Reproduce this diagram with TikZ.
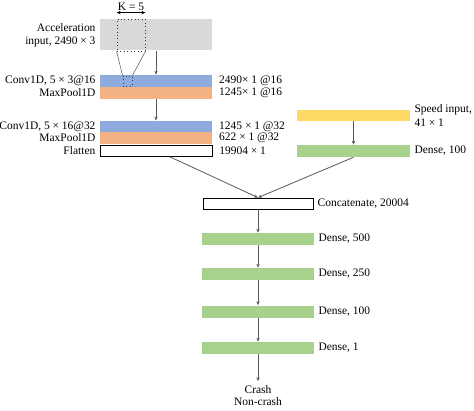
\documentclass[tikz,border=0pt]{standalone}
\usepackage{fontspec}
\setmainfont{Liberation Serif}
\usepackage{xcolor}
\usepackage{tikz}
\usetikzlibrary{arrows.meta, positioning, calc}
\definecolor{accgray}{HTML}{D9D9D9}
\definecolor{convblue}{HTML}{8FAADC}
\definecolor{poolorange}{HTML}{F4B183}
\definecolor{speedyellow}{HTML}{FFD966}
\definecolor{densegreen}{HTML}{A9D18E}
\definecolor{linegray}{HTML}{595959}
\definecolor{kernelnavy}{HTML}{1F3864}

\begin{document}
\begin{tikzpicture}[
    x=0.75pt, y=-0.75pt,
    font=\fontsize{8.6pt}{10pt}\selectfont,
    bar/.style={fill=#1, minimum width=84pt, minimum height=9pt, inner sep=0pt},
    arrow/.style={-{Stealth[length=3pt, width=2.5pt]}, color=linegray, semithick},
    lbl/.style={inner sep=1pt}
]
\useasboundingbox (0,0) rectangle (474,410);

% Acceleration branch
\node[bar=accgray, minimum height=23.25pt] (acc) at (156,35) {};
\node[lbl, left=2pt of acc, align=right] {Acceleration\\input, 2490 × 3};

\node[bar=convblue] (conva) at (156,81) {};
\node[bar=poolorange] (poola) at (156,93) {};
\node[lbl, left=2pt of conva] {Conv1D, 5 × 3@16};
\node[lbl, left=2pt of poola] {MaxPool1D};
\node[lbl, right=4pt of conva] {2490× 1 @16};
\node[lbl, right=4pt of poola] {1245× 1 @16};

\node[bar=convblue, minimum height=8.6pt] (convb) at (156,126.5) {};
\node[bar=poolorange, minimum height=8.6pt] (poolb) at (156,138) {};
\node[bar=white, draw=black, semithick, minimum height=8.2pt] (flat) at (156,151) {};
\node[lbl, left=2pt of convb] {Conv1D, 5 × 16@32};
\node[lbl, left=2pt of poolb] {MaxPool1D};
\node[lbl, left=2pt of flat] {Flatten};
\node[lbl, right=4pt of convb] {1245 × 1 @32};
\node[lbl, right=4pt of poolb] {622 × 1 @32};
\node[lbl, right=4pt of flat] {19904 × 1};

% Kernel window
\node[draw=black!80, dotted, semithick, minimum width=21pt, minimum height=24pt, inner sep=0pt] (kwin) at (131,35) {};
\node[draw=kernelnavy, dotted, semithick, minimum width=6.75pt, minimum height=7.5pt, inner sep=0pt] (kout) at (127.5,81) {};
\draw[color=linegray] (kwin.south west) -- (kout.north west);
\draw[color=linegray] (kwin.south east) -- (kout.north east);
\coordinate (kl) at ($(kwin.north west)+(0,4.5pt)$);
\coordinate (kr) at ($(kwin.north east)+(0,4.5pt)$);
\draw[{Stealth[length=3pt, width=2.5pt]}-{Stealth[length=3pt, width=2.5pt]}, color=black] (kl) -- (kr);
\node[lbl, above=0pt of $(kl)!0.5!(kr)$] (ktxt) {K = 5};

% Speed branch
\node[bar=speedyellow, minimum width=84.75pt, minimum height=8.25pt] (speed) at (353.5,115.5) {};
\node[bar=densegreen, minimum width=84.75pt] (dspeed) at (353.5,151) {};
\node[lbl, right=2pt of speed, align=left] {Speed input,\\41 × 1};
\node[lbl, right=2pt of dspeed] {Dense, 100};

% Merge and dense layers
\node[bar=white, draw=black, semithick, minimum width=82.5pt, minimum height=8.25pt] (concat) at (258,203.5) {};
\node[lbl, right=2pt of concat] {Concatenate, 20004};
\node[bar=densegreen] (d500) at (258,239) {};
\node[bar=densegreen] (d250) at (258,274) {};
\node[bar=densegreen] (d100) at (258,311.5) {};
\node[bar=densegreen] (d1) at (258,348) {};
\node[lbl, right=2pt of d500] {Dense, 500};
\node[lbl, right=2pt of d250] {Dense, 250};
\node[lbl, right=2pt of d100] {Dense, 100};
\node[lbl, right=2pt of d1] {Dense, 1};
\node[align=center, font=\fontsize{8.6pt}{9pt}\selectfont] (out) at (258,396) {Crash\\Non-crash};

% Connections
\draw[arrow] (acc) -- (conva);
\draw[arrow] (poola) -- (convb);
\draw[arrow] (speed) -- (dspeed);
\draw[arrow] ([xshift=10.5pt]flat.south) -- (concat.north);
\draw[arrow] (dspeed.south) -- (concat.north);
\draw[arrow] (concat) -- (d500);
\draw[arrow] (d500) -- (d250);
\draw[arrow] (d250) -- (d100);
\draw[arrow] (d100) -- (d1);
\draw[arrow] (d1) -- (out);

\end{tikzpicture}
\end{document}
